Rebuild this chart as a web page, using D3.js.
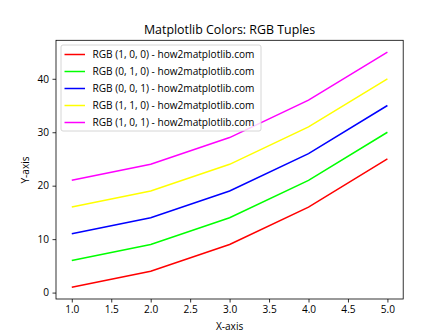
<!DOCTYPE html>
<html><head><meta charset="utf-8">
<script src="https://cdn.jsdelivr.net/npm/d3@7"></script>
<style>body{margin:0;background:#fff}svg{display:block}text{font-family:"Open Sans","Noto Sans",sans-serif;fill:#000}</style>
</head><body>
<script>
const xs = [1, 2, 3, 4, 5];
const red = [1, 4, 9, 16, 25];
const green = [6, 9, 14, 21, 30];
const blue = [11, 14, 19, 26, 35];
const yellow = [16, 19, 24, 31, 40];
const magenta = [21, 24, 29, 36, 45];
const labels = ["RGB (1, 0, 0) - how2matplotlib.com","RGB (0, 1, 0) - how2matplotlib.com","RGB (0, 0, 1) - how2matplotlib.com","RGB (1, 1, 0) - how2matplotlib.com","RGB (1, 0, 1) - how2matplotlib.com"];
const colors = ["#ff0000","#00ff00","#0000ff","#ffff00","#ff00ff"];
const xTicks = [1.0,1.5,2.0,2.5,3.0,3.5,4.0,4.5,5.0];
const yTicks = [0,10,20,30,40];
const seriesList = [red, green, blue, yellow, magenta];

const W=448,H=336, L=56, R=403.2, T=40.3, B=299;
const svg = d3.select("body").append("svg").attr("width",W).attr("height",H);
const x = d3.scaleLinear().domain([0.8,5.2]).range([L,R]);
const y = d3.scaleLinear().domain([-1.2,47.2]).range([B,T]);

const line = d3.line().x((d,i)=>x(xs[i])).y(d=>y(d));
seriesList.forEach((s,k)=>{
  svg.append("path").datum(s).attr("d",line).attr("fill","none").attr("stroke",colors[k]).attr("stroke-width",1.5);
});

const xa = svg.append("g").attr("transform",`translate(0,${B})`).call(d3.axisBottom(x).tickValues(xTicks).tickFormat(d3.format(".1f")).tickSize(3.5).tickPadding(3.5));
const ya = svg.append("g").attr("transform",`translate(${L},0)`).call(d3.axisLeft(y).tickValues(yTicks).tickSize(3.5).tickPadding(3.5));
[xa,ya].forEach(a=>{a.select(".domain").remove(); a.selectAll("text").style("font-size","10.1px").attr("fill","#000"); a.selectAll("line").attr("stroke","#000").attr("stroke-width",0.8);});

svg.append("rect").attr("x",L).attr("y",T).attr("width",R-L).attr("height",B-T).attr("fill","none").attr("stroke","#000").attr("stroke-width",0.8);

svg.append("text").attr("x",(L+R)/2).attr("y",34).attr("text-anchor","middle").style("font-size","12.4px").text("Matplotlib Colors: RGB Tuples");
svg.append("text").attr("x",(L+R)/2).attr("y",330).attr("text-anchor","middle").style("font-size","10.1px").text("X-axis");
svg.append("text").attr("transform","translate(29,170) rotate(-90)").attr("text-anchor","middle").style("font-size","10.1px").text("Y-axis");

const lg = svg.append("g");
lg.append("rect").attr("x",61).attr("y",45).attr("width",200).attr("height",86).attr("rx",2).attr("fill","#fff").attr("fill-opacity",0.8).attr("stroke","#ccc").attr("stroke-width",0.8);
labels.forEach((t,k)=>{
  const yy = 54.5 + k*17;
  lg.append("line").attr("x1",64.5).attr("x2",85).attr("y1",yy).attr("y2",yy).attr("stroke",colors[k]).attr("stroke-width",1.5);
  lg.append("text").attr("x",92.5).attr("y",yy+3.6).style("font-size","10.1px").text(t);
});
</script>
</body></html>
